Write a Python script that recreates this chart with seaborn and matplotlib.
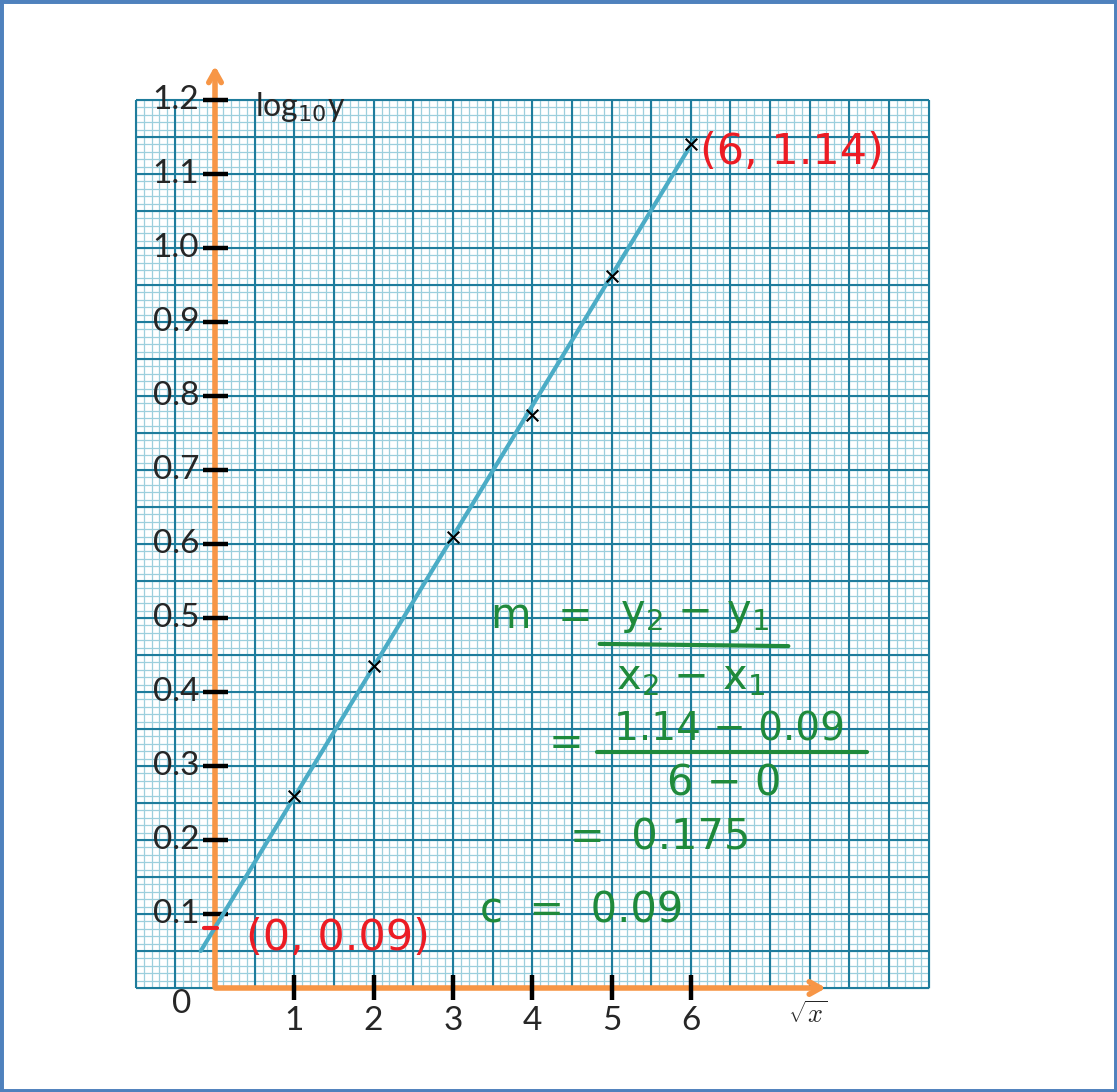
import numpy as np
import matplotlib
matplotlib.use("Agg")
import matplotlib.pyplot as plt
from matplotlib.patches import Rectangle
import seaborn as sns

sns.set_style("white")
plt.rcParams['font.family'] = ['Lato', 'DejaVu Sans']

# measured points (sqrt(x), log10 y)
sqrt_x = [1, 2, 3, 4, 5, 6]
log_y = [0.26, 0.435, 0.61, 0.775, 0.962, 1.14]

# best fit line as drawn
line_x = [-0.18, 6.04]
line_y = [0.05, 1.146]

# axis ticks
x_ticks = [1, 2, 3, 4, 5, 6]
x_labels = ["1", "2", "3", "4", "5", "6"]
y_ticks = [0.1, 0.2, 0.3, 0.4, 0.5, 0.6, 0.7, 0.8, 0.9, 1.0, 1.1, 1.2]
y_labels = ["0.1", "0.2", "0.3", "0.4", "0.5", "0.6", "0.7", "0.8", "0.9", "1.0", "1.1", "1.2"]

# graph paper extent
paper_x = (-1.0, 9.0)
paper_y = (0.0, 1.2)

GREEN = "#1f8a3b"
RED = "#ec1c24"
ORANGE = "#f79646"

fig = plt.figure(figsize=(11.17, 10.92), dpi=100)
ax = fig.add_axes([0, 0, 1, 1])
ax.set_xlim(-215 / 79.3, (1117 - 215) / 79.3)
ax.set_ylim((988 - 1092) / 740, 988 / 740)
ax.axis("off")

# graph paper: minor then major lines
minor_x = np.arange(paper_x[0], paper_x[1] + 1e-9, 0.1)
minor_y = np.arange(paper_y[0], paper_y[1] + 1e-9, 0.01)
major_x = np.arange(paper_x[0], paper_x[1] + 1e-9, 0.5)
major_y = np.arange(paper_y[0], paper_y[1] + 1e-9, 0.05)
ax.vlines(minor_x, *paper_y, color="#9ccfdd", lw=0.9, zorder=1)
ax.hlines(minor_y, *paper_x, color="#9ccfdd", lw=0.9, zorder=1)
ax.vlines(major_x, *paper_y, color="#1f7c9c", lw=1.5, zorder=2)
ax.hlines(major_y, *paper_x, color="#1f7c9c", lw=1.5, zorder=2)

# orange axes with arrows
ax.annotate("", xy=(0, 1.25), xytext=(0, -0.002),
            arrowprops=dict(arrowstyle="->,head_length=0.8,head_width=0.45",
                            color=ORANGE, lw=4), zorder=3)
ax.annotate("", xy=(7.74, 0), xytext=(-0.03, 0),
            arrowprops=dict(arrowstyle="->,head_length=0.8,head_width=0.45",
                            color=ORANGE, lw=4), zorder=3)

# tick marks and labels
for t, lab in zip(y_ticks, y_labels):
    ax.plot([-0.15, 0.17], [t, t], color="black", lw=3.2, zorder=4, solid_capstyle="butt")
    ax.text(-0.2, t, lab, ha="right", va="center", fontsize=24, zorder=5)
for t, lab in zip(x_ticks, x_labels):
    ax.plot([t, t], [0.018, -0.016], color="black", lw=3.2, zorder=4, solid_capstyle="butt")
    ax.text(t, -0.045, lab, ha="center", va="center", fontsize=24, zorder=5)
ax.text(-0.42, -0.022, "0", ha="center", va="center", fontsize=24)
ax.text(0.5, 1.19, r"log$_{10}$y", ha="left", va="center", fontsize=23)
ax.text(7.48, -0.036, r"$\sqrt{x}$", ha="center", va="center", fontsize=19,
        math_fontfamily="cm")

# fitted line and points
sns.lineplot(x=line_x, y=line_y, ax=ax, color="#4bacc6", lw=3, zorder=6)
sns.scatterplot(x=sqrt_x, y=log_y, ax=ax, marker="x", color="black", s=70,
                linewidth=1.5, zorder=7)

# red point labels
red = dict(color=RED, fontsize=31, ha="center", va="center", zorder=8,
           family="DejaVu Sans")
ax.text(7.28, 1.13, "(6, 1.14)", **red)
ax.text(1.55, 0.068, "(0, 0.09)", **red)
ax.plot([-0.14, 0.02], [0.081, 0.081], color=RED, lw=3, zorder=8)

# green working
hw = dict(color=GREEN, fontsize=30, ha="center", va="center", zorder=8,
          family="DejaVu Sans")
ax.text(4.12, 0.503, "m  =", **hw)
ax.text(6.05, 0.505, r"y$_2$ − y$_1$", **hw)
ax.plot([4.85, 7.23], [0.465, 0.462], color=GREEN, lw=3, zorder=8)
ax.text(5.99, 0.42, r"x$_2$ − x$_1$", **hw)
ax.text(4.43, 0.331, "=", **hw)
ax.text(6.49, 0.349, "1.14 − 0.09", **{**hw, "fontsize": 28})
ax.plot([4.82, 8.22], [0.319, 0.319], color=GREEN, lw=3, zorder=8)
ax.text(6.42, 0.277, "6 − 0", **hw)
ax.text(5.62, 0.204, "=  0.175", **hw)
ax.text(4.62, 0.105, "c  =  0.09", **hw)

# blue frame round the picture
ax.add_patch(Rectangle((0, 0), 1, 1, transform=ax.transAxes, fill=False,
                       edgecolor="#4f81bd", lw=5, clip_on=False, zorder=10))

fig.savefig("out.png", dpi=100)
